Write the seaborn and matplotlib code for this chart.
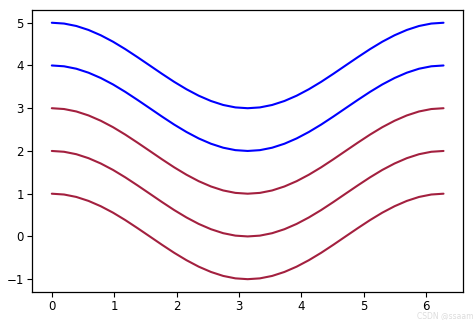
import matplotlib
matplotlib.use("Agg")
import matplotlib.pyplot as plt
import seaborn as sns
import pandas as pd

# x positions (0 .. 2*pi) and base curve shape
x_vals = [0.000, 0.196, 0.393, 0.589, 0.785, 0.982, 1.178, 1.374, 1.571,
          1.767, 1.963, 2.160, 2.356, 2.553, 2.749, 2.945, 3.142,
          3.338, 3.534, 3.731, 3.927, 4.123, 4.320, 4.516, 4.712,
          4.909, 5.105, 5.301, 5.498, 5.694, 5.890, 6.087, 6.283]
base_vals = [1.000, 0.981, 0.924, 0.831, 0.707, 0.556, 0.383, 0.195, 0.000,
             -0.195, -0.383, -0.556, -0.707, -0.831, -0.924, -0.981, -1.000,
             -0.981, -0.924, -0.831, -0.707, -0.556, -0.383, -0.195, 0.000,
             0.195, 0.383, 0.556, 0.707, 0.831, 0.924, 0.981, 1.000]
offsets = [0, 1, 2, 3, 4]
series_colors = ["#a3203f", "#a3203f", "#a3203f", "#0000ff", "#0000ff"]
x_ticks = [0, 1, 2, 3, 4, 5, 6]
y_ticks = [-1, 0, 1, 2, 3, 4, 5]

rows = []
for k in offsets:
    for xv, bv in zip(x_vals, base_vals):
        rows.append({"x": xv, "y": bv + k, "series": str(k)})
df = pd.DataFrame(rows)

sns.set_style("ticks")
plt.rcParams['font.family'] = ['DejaVu Sans']

fig = plt.figure(figsize=(4.74, 3.2), dpi=100)
ax = fig.add_axes([0.068, 0.0875, 0.909, 0.8815])
palette = {str(k): c for k, c in zip(offsets, series_colors)}
sns.lineplot(data=df, x="x", y="y", hue="series", palette=palette,
             linewidth=1.5, legend=False, ax=ax, sort=False)
ax.set_xlabel("")
ax.set_ylabel("")
ax.set_xticks(x_ticks)
ax.set_yticks(y_ticks)
ax.tick_params(labelsize=8.5, length=3.5, width=0.8, colors="black", pad=2.5)
for s in ax.spines.values():
    s.set_visible(True)
    s.set_color("black")
    s.set_linewidth(0.9)
ax.margins(x=0.05, y=0.05)
fig.text(0.999, 0.0, "CSDN @ssaam", ha="right", va="bottom",
         fontsize=5.5, color="#dcdcdc")
fig.savefig("out.png", dpi=100)
